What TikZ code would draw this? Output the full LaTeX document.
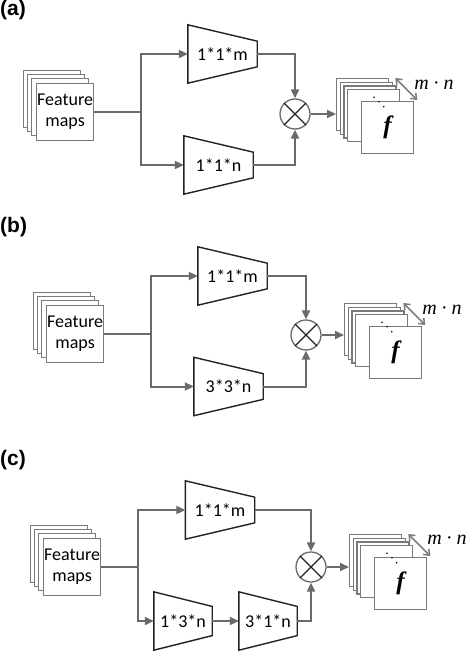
\documentclass[tikz,border=0pt]{standalone}
\usepackage{fontspec}
\setmainfont{Carlito}
\newfontfamily\lblfont{Liberation Sans}
\newfontfamily\tnrfont{Liberation Serif}
\usepackage{tikz}
\usetikzlibrary{arrows.meta,positioning,calc}
\usepackage{xcolor}

\definecolor{conngray}{HTML}{6A6A6A}
\definecolor{boxgray}{HTML}{7A7A7A}
\definecolor{trapdark}{HTML}{222222}
\definecolor{dimgray}{HTML}{7E7E7E}

% outline of a conv block, drawn round its node
\newcommand{\trapout}[2][0.28]{%
  \draw[trapline] (#2.north west) -- ($(#2.north east)!#1!(#2.south east)$)
    -- ($(#2.south east)!#1!(#2.north east)$) -- (#2.south west) -- cycle;}

\begin{document}
\begin{tikzpicture}[
			x=1pt, y=-1pt,
			wire/.style={draw=conngray, line width=2pt},
			conn/.style={wire, -{Triangle[length=9pt,width=8pt]}},
			fmback/.style={draw=boxgray, fill=white, line width=1.3pt},
			fmbox/.style={fmback, minimum size=57pt, inner sep=0pt, align=center, anchor=north west, font=\fontsize{18}{21}\selectfont},
			trap/.style={minimum width=69pt, minimum height=58pt, inner sep=0pt, font=\fontsize{18}{21}\selectfont},
			smalltrap/.style={trap, minimum width=58pt},
			trapline/.style={draw=trapdark, line width=1.4pt},
			mult/.style={circle, draw=conngray, fill=white, line width=1.3pt, minimum size=30pt, inner sep=0pt},
			xline/.style={draw=trapdark, line width=1.1pt},
			outbox/.style={fmback, minimum size=52pt, inner sep=0pt, anchor=north west},
			fbox/.style={outbox, font=\tnrfont\bfseries\itshape\fontsize{25}{27}\selectfont},
			dimarrow/.style={draw=dimgray, line width=1.5pt, {Straight Barb[length=5pt,width=8pt]}-{Straight Barb[length=5pt,width=8pt]}},
			dimlbl/.style={font=\tnrfont\itshape\fontsize{20}{22}\selectfont, inner sep=0pt},
			lbl/.style={font=\lblfont\bfseries\fontsize{21}{24}\selectfont, inner sep=0pt, anchor=base west}
		]
		\useasboundingbox (0,0) rectangle (474,655);

		% (a)
		\node[lbl] (la) at (0,15.5) {(a)};
		\foreach \k in {3,2,1}
			\draw[fmback] (36-4.2*\k,83-4.2*\k) rectangle +(57,57);
		\node[fmbox] (fma) at (36,83) {Feature\\maps};
		\coordinate (sa) at ($(fma.east)+(47,0)$);
		\node[trap] (ta) at (222.5,54) {1*1*m};
		\node[trap] (ba) at (218.5,165) {1*1*n};
		\trapout{ta} \trapout{ba}
		\node[mult] (ma) at (295,114) {};
		\draw[xline] (ma.north west) -- (ma.south east) (ma.north east) -- (ma.south west);
		\foreach \k in {0,...,3}
			\node[outbox] (oa\k) at (336+3.7*\k,78+3.7*\k) {};
		\node[fbox] (fa) at (361,101) {f};
		\foreach \dx/\dy in {13/-3.7, 18/0.7, 22.7/5.7}
			\fill ($(fa.north west)+(\dx,\dy)$) circle (0.9pt);
		\draw[dimarrow] ($(oa0.north east)+(6,0)$) -- ($(fa.north east)+(3,-1)$);
		\node[dimlbl] (mna) at (434,85) {m · n};

		\draw[wire] (fma.east) -- (sa);
		\draw[conn] (sa) |- (ta.west);
		\draw[conn] (sa) |- (ba.west);
		\draw[conn] (ta.east) -| (ma.north);
		\draw[conn] (ba.east) -| (ma.south);
		\draw[conn] (ma.east) -- (ma.east -| oa0.west);

		% (b)
		\node[lbl] (lb) at (0,232) {(b)};
		\foreach \k in {3,2,1}
			\draw[fmback] (46-4.2*\k,305-4.2*\k) rectangle +(57,57);
		\node[fmbox] (fmb) at (46,305) {Feature\\maps};
		\coordinate (sb) at ($(fmb.east)+(47,0)$);
		\node[trap] (tb) at (232.5,276) {1*1*m};
		\node[trap] (bb) at (228.5,386.5) {3*3*n};
		\trapout{tb} \trapout{bb}
		\node[mult] (mb) at (306,335) {};
		\draw[xline] (mb.north west) -- (mb.south east) (mb.north east) -- (mb.south west);
		\foreach \k in {0,...,3}
			\node[outbox] (ob\k) at (344+3.7*\k,303+3.7*\k) {};
		\node[fbox] (fb) at (369,326) {f};
		\foreach \dx/\dy in {13/-3.7, 18/0.7, 22.7/5.7}
			\fill ($(fb.north west)+(\dx,\dy)$) circle (0.9pt);
		\draw[dimarrow] ($(ob0.north east)+(6,0)$) -- ($(fb.north east)+(3,-1)$);
		\node[dimlbl] (mnb) at (442,310) {m · n};

		\draw[wire] (fmb.east) -- (sb);
		\draw[conn] (sb) |- (tb.west);
		\draw[conn] (sb) |- (bb.west);
		\draw[conn] (tb.east) -| (mb.north);
		\draw[conn] (bb.east) -| (mb.south);
		\draw[conn] (mb.east) -- (mb.east -| ob0.west);

		% (c)
		\node[lbl] (lc) at (0,465) {(c)};
		\foreach \k in {3,2,1}
			\draw[fmback] (43-4.2*\k,538-4.2*\k) rectangle +(57,57);
		\node[fmbox] (fmc) at (43,538) {Feature\\maps};
		\coordinate (sc) at ($(fmc.east)+(37,0)$);
		\node[trap] (tc) at (220,510) {1*1*m};
		\node[smalltrap] (bc1) at (183,621) {1*3*n};
		\node[smalltrap] (bc2) at (268,621) {3*1*n};
		\trapout{tc} \trapout[0.25]{bc1} \trapout[0.25]{bc2}
		\node[mult] (mc) at (311,567) {};
		\draw[xline] (mc.north west) -- (mc.south east) (mc.north east) -- (mc.south west);
		\foreach \k in {0,...,3}
			\node[outbox] (oc\k) at (349+3.7*\k,534+3.7*\k) {};
		\node[fbox] (fc) at (374,557) {f};
		\foreach \dx/\dy in {13/-3.7, 18/0.7, 22.7/5.7}
			\fill ($(fc.north west)+(\dx,\dy)$) circle (0.9pt);
		\draw[dimarrow] ($(oc0.north east)+(6,0)$) -- ($(fc.north east)+(3,-1)$);
		\node[dimlbl] (mnc) at (447,540) {m · n};

		\draw[wire] (fmc.east) -- (sc);
		\draw[conn] (sc) |- (tc.west);
		\draw[conn] (sc) |- (bc1.west);
		\draw[conn] (bc1.east) -- (bc2.west);
		\draw[conn] (tc.east) -| (mc.north);
		\draw[conn] (bc2.east) -| (mc.south);
		\draw[conn] (mc.east) -- (mc.east -| oc0.west);

	\end{tikzpicture}
\end{document}
